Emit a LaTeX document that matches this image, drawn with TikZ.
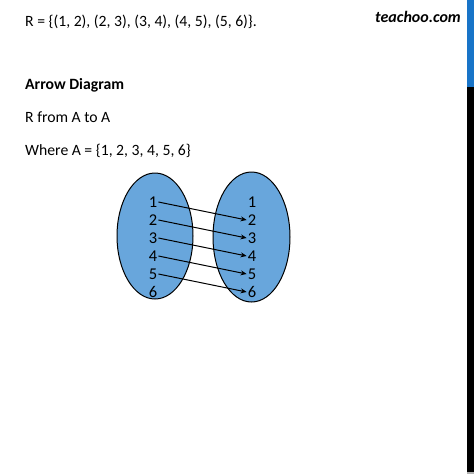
\documentclass[tikz,border=0pt]{standalone}
\usepackage{fontspec}
\setmainfont{Carlito}
\usetikzlibrary{arrows.meta}
\definecolor{setblue}{RGB}{104,166,220}
\definecolor{barblue}{RGB}{24,116,200}
\begin{document}
\begin{tikzpicture}[x=1pt,y=-1pt,
  txt/.style={anchor=base west,inner sep=0pt,font=\fontsize{15.7}{18}\selectfont},
  num/.style={inner sep=1pt,font=\fontsize{16.5}{18}\selectfont},
  setshape/.style={draw=black,line width=1pt,fill=setblue},
  maparrow/.style={-{Stealth[length=6pt,width=5pt]},line width=1pt}]
\useasboundingbox (0,0) rectangle (474,474);
\fill[white] (0,0) rectangle (474,474);
% right bar
\fill[barblue] (467,0) rectangle (474,87);
\fill[black] (467,87) rectangle (474,472);
\fill[gray!60] (467,472) rectangle (474,474);
% texts
\node[txt] (rel) at (25,26) {R = \{(1, 2), (2, 3), (3, 4), (4, 5), (5, 6)\}.};
\node[anchor=base west,inner sep=0pt,font=\fontsize{16}{18}\selectfont\bfseries\itshape] (logo) at (375,22) {teachoo.com};
\node[txt,font=\fontsize{15.7}{18}\selectfont\bfseries] (head) at (25,89) {Arrow Diagram};
\node[txt] (from) at (25,122) {R from A to A};
\node[txt] (where) at (25,155) {Where A = \{1, 2, 3, 4, 5, 6\}};
% sets
\draw[setshape] (155,236) ellipse [x radius=38, y radius=63];
\draw[setshape] (251.5,237) ellipse [x radius=38.5, y radius=65];
\foreach \i/\y in {1/202,2/220,3/238,4/256,5/274,6/292}{
  \node[num] (L\i) at (153,\y) {\i};
  \node[num] (R\i) at (252,\y) {\i};
}
\foreach \a/\b in {1/2,2/3,3/4,4/5,5/6}{
  \draw[maparrow] (L\a.east) -- (R\b.west);
}
\end{tikzpicture}
\end{document}
